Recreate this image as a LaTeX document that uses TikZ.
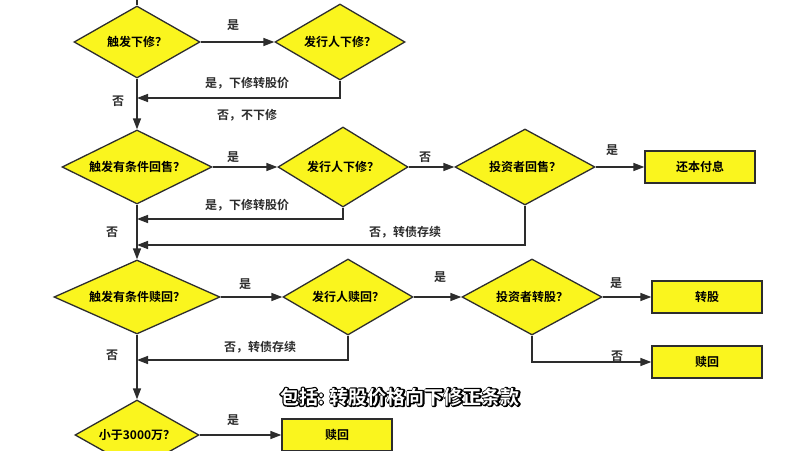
\documentclass[tikz,border=0pt]{standalone}
\usepackage{fontspec}
\newfontfamily\cjk{Noto Sans CJK SC Bold}
\usetikzlibrary{shapes.geometric,arrows.meta}
\definecolor{fy}{RGB}{250,245,30}
\definecolor{fl}{RGB}{45,45,45}
\newcommand{\subtxt}{包括: 转股价格向下修正条款}
\begin{document}
\begin{tikzpicture}[x=1pt,y=-1pt,font=\cjk\fontsize{12}{14}\selectfont,
  dia/.style={diamond,draw=fl,line width=1.3pt,fill=fy,aspect=1.8,inner sep=0pt},
  box/.style={rectangle,draw=fl,line width=1.3pt,fill=fy,minimum width=110pt,minimum height=32pt},
  arr/.style={draw=fl,line width=1.4pt,-{Triangle[length=11pt,width=8pt]}},
  ln/.style={draw=fl,line width=1.4pt},
  lab/.style={text=fl},
  subt/.style={font=\cjk\fontsize{19}{22}\selectfont,text=white}]
\useasboundingbox (0,0) rectangle (800,450);
\fill[white] (0,0) rectangle (800,450);
\node[dia,minimum width=126pt,minimum height=72pt] (d1) at (137,42) {触发下修？};
\node[dia,minimum width=130pt,minimum height=76pt] (d2) at (340,42) {发行人下修？};
\node[dia,minimum width=150pt,minimum height=74pt] (d3) at (137,167) {触发有条件回售？};
\node[dia,minimum width=130pt,minimum height=80pt] (d4) at (343,167) {发行人下修？};
\node[dia,minimum width=140pt,minimum height=76pt] (d5) at (525,167) {投资者回售？};
\node[box] (r1) at (700,167) {还本付息};
\node[dia,minimum width=166pt,minimum height=74pt] (d6) at (137,297) {触发有条件赎回？};
\node[dia,minimum width=130pt,minimum height=76pt] (d7) at (348,297) {发行人赎回？};
\node[dia,minimum width=140pt,minimum height=76pt] (d8) at (532,297) {投资者转股？};
\node[box] (r2) at (707,297) {转股};
\node[box] (r3) at (707,362) {赎回};
\node[dia,minimum width=124pt,minimum height=70pt] (d9) at (137,435) {小于3000万？};
\node[box] (r4) at (337,435) {赎回};
\coordinate (top) at (137,0);
\coordinate (j1) at (137,98);
\coordinate (j2) at (137,219);
\coordinate (j3) at (137,245);
\coordinate (j4) at (137,360);
\draw[ln] (top) -- (d1.north);
\draw[arr] (d1) -- (d2);
\draw[arr] (d2.south) |- (j1);
\draw[arr] (d1.south) -- (d3.north);
\draw[arr] (d3) -- (d4);
\draw[arr] (d4) -- (d5);
\draw[arr] (d5) -- (r1);
\draw[arr] (d4.south) |- (j2);
\draw[arr] (d5.south) |- (j3);
\draw[arr] (d3.south) -- (d6.north);
\draw[arr] (d6) -- (d7);
\draw[arr] (d7) -- (d8);
\draw[arr] (d8) -- (r2);
\draw[arr] (d8.south) |- (r3);
\draw[arr] (d7.south) |- (j4);
\draw[arr] (d6.south) -- (d9.north);
\draw[arr] (d9) -- (r4);
\node[lab] (l1) at (233,25) {是};
\node[lab] (l2) at (247,83) {是，下修转股价};
\node[lab] (l3) at (247,115) {否，不下修};
\node[lab] (l4) at (118,101) {否};
\node[lab] (l5) at (233,157) {是};
\node[lab] (l6) at (425,157) {否};
\node[lab] (l7) at (612,150) {是};
\node[lab] (l8) at (247,205) {是，下修转股价};
\node[lab] (l9) at (405,232) {否，转债存续};
\node[lab] (l10) at (112,232) {否};
\node[lab] (l11) at (245,284) {是};
\node[lab] (l12) at (440,277) {是};
\node[lab] (l13) at (616,283) {是};
\node[lab] (l14) at (617,356) {否};
\node[lab] (l15) at (260,347) {否，转债存续};
\node[lab] (l16) at (112,355) {否};
\node[lab] (l17) at (233,420) {是};
\node[subt] (sub) at (400,397) {\rlap{\special{pdf:code 1 Tr 2.6 w 0 G 1 j}\subtxt\special{pdf:code 0 Tr}}\subtxt};
\end{tikzpicture}
\end{document}
